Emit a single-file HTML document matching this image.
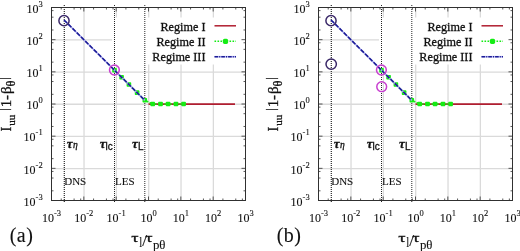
<!DOCTYPE html>
<html><head><meta charset="utf-8"><style>
html,body{margin:0;padding:0;background:#fff;width:520px;height:251px;overflow:hidden}
svg{display:block}
text{stroke:#111;stroke-width:0.1px}
.lg text{stroke-width:0.3px}
</style></head><body>
<svg width="520" height="251" viewBox="0 0 520 251">
<rect width="520" height="251" fill="#fff"/>
<g transform="translate(0,0)">
<path d="M84.03 7.5V200.5M51.5 168.58H245.5M116.37 7.5V200.5M51.5 136.42H245.5M148.7 7.5V200.5M51.5 104.25H245.5M181.03 7.5V200.5M51.5 72.08H245.5M213.37 7.5V200.5M51.5 39.92H245.5" stroke="#dadada" stroke-width="1.3" fill="none"/>
<rect x="112" y="17.5" width="133" height="47" fill="#fff"/>
<path d="M51.5 200.5v-4M51.5 7.5v4M51.5 200.5h4M245.5 200.5h-4M61.23 200.5v-2M61.23 7.5v2M51.5 190.82h2M245.5 190.82h-2M74.1 200.5v-2M74.1 7.5v2M51.5 178.02h2M245.5 178.02h-2M80.7 200.5v-2M80.7 7.5v2M51.5 171.45h2M245.5 171.45h-2M83.83 200.5v-4M83.83 7.5v4M51.5 168.33h4M245.5 168.33h-4M93.57 200.5v-2M93.57 7.5v2M51.5 158.65h2M245.5 158.65h-2M106.43 200.5v-2M106.43 7.5v2M51.5 145.85h2M245.5 145.85h-2M113.03 200.5v-2M113.03 7.5v2M51.5 139.28h2M245.5 139.28h-2M116.17 200.5v-4M116.17 7.5v4M51.5 136.17h4M245.5 136.17h-4M125.9 200.5v-2M125.9 7.5v2M51.5 126.48h2M245.5 126.48h-2M138.77 200.5v-2M138.77 7.5v2M51.5 113.68h2M245.5 113.68h-2M145.37 200.5v-2M145.37 7.5v2M51.5 107.12h2M245.5 107.12h-2M148.5 200.5v-4M148.5 7.5v4M51.5 104h4M245.5 104h-4M158.23 200.5v-2M158.23 7.5v2M51.5 94.32h2M245.5 94.32h-2M171.1 200.5v-2M171.1 7.5v2M51.5 81.52h2M245.5 81.52h-2M177.7 200.5v-2M177.7 7.5v2M51.5 74.95h2M245.5 74.95h-2M180.83 200.5v-4M180.83 7.5v4M51.5 71.83h4M245.5 71.83h-4M190.57 200.5v-2M190.57 7.5v2M51.5 62.15h2M245.5 62.15h-2M203.43 200.5v-2M203.43 7.5v2M51.5 49.35h2M245.5 49.35h-2M210.03 200.5v-2M210.03 7.5v2M51.5 42.78h2M245.5 42.78h-2M213.17 200.5v-4M213.17 7.5v4M51.5 39.67h4M245.5 39.67h-4M222.9 200.5v-2M222.9 7.5v2M51.5 29.98h2M245.5 29.98h-2M235.77 200.5v-2M235.77 7.5v2M51.5 17.18h2M245.5 17.18h-2M242.37 200.5v-2M242.37 7.5v2M51.5 10.62h2M245.5 10.62h-2M245.5 200.5v-4M245.5 7.5v4M51.5 7.5h4M245.5 7.5h-4" stroke="#303030" stroke-width="0.8" fill="none"/>
<path d="M64.3 5V202.0" stroke="#262626" stroke-width="1.2" stroke-dasharray="1 1" fill="none"/>
<path d="M114.5 5V202.0" stroke="#262626" stroke-width="1" stroke-dasharray="1 1" fill="none"/>
<path d="M144.8 5V202.0" stroke="#262626" stroke-width="1" stroke-dasharray="1 1" fill="none"/>
<rect x="51.5" y="7.5" width="194" height="193" fill="none" stroke="#303030" stroke-width="1"/>
<path d="M148.5 104.2H235" stroke="#b01e30" stroke-width="1.8" fill="none"/>
<path d="M114.5 70.18 L121.6 77.24 L128.9 84.5 L137.1 92.66 L144.8 100.32 L152.7 104 L160.5 104 L168.1 104 L176 104 L183.6 104" stroke="#14ec14" stroke-width="1.5" stroke-dasharray="1.6 1.4" fill="none"/>
<rect x="112.2" y="67.88" width="4.6" height="4.6" rx="0.8" fill="#14ec14"/>
<rect x="119.3" y="74.94" width="4.6" height="4.6" rx="0.8" fill="#14ec14"/>
<rect x="126.6" y="82.2" width="4.6" height="4.6" rx="0.8" fill="#14ec14"/>
<rect x="134.8" y="90.36" width="4.6" height="4.6" rx="0.8" fill="#14ec14"/>
<rect x="142.5" y="98.02" width="4.6" height="4.6" rx="0.8" fill="#14ec14"/>
<rect x="150.4" y="101.7" width="4.6" height="4.6" rx="0.8" fill="#14ec14"/>
<rect x="158.2" y="101.7" width="4.6" height="4.6" rx="0.8" fill="#14ec14"/>
<rect x="165.8" y="101.7" width="4.6" height="4.6" rx="0.8" fill="#14ec14"/>
<rect x="173.7" y="101.7" width="4.6" height="4.6" rx="0.8" fill="#14ec14"/>
<rect x="181.3" y="101.7" width="4.6" height="4.6" rx="0.8" fill="#14ec14"/>
<path d="M64.01 19.95L144.81 100.33" stroke="#a8a8f0" stroke-width="1.6" fill="none"/>
<path d="M64.01 19.95L144.81 100.33" stroke="#1c1c96" stroke-width="1.6" stroke-dasharray="4.4 1.6" fill="none"/>
<circle cx="64" cy="20.7" r="5.1" stroke="#3a2868" stroke-width="1.5" fill="none"/>
<circle cx="114.4" cy="70" r="4.9" stroke="#c840d0" stroke-width="1.5" fill="none"/>
<g class="lg" font-family="Liberation Serif, serif" font-size="12.2" fill="#111" text-anchor="end">
<text x="205.5" y="30.6">Regime I</text>
<text x="205.5" y="45.6">Regime II</text>
<text x="205.5" y="60.6">Regime III</text>
</g>
<path d="M214.5 25.8H236" stroke="#b01e30" stroke-width="1.5"/>
<path d="M214.5 41.3H236" stroke="#14ec14" stroke-width="1.5" stroke-dasharray="1.6 1.4"/>
<rect x="222.9" y="38.7" width="5.2" height="5.2" rx="1.6" fill="#14ec14"/>
<path d="M214.5 56.7H236" stroke="#b0b0f0" stroke-width="1.6"/>
<path d="M214.5 56.7H236" stroke="#1c1c96" stroke-width="1.6" stroke-dasharray="3.6 1.1 1 1.1"/>
<g class="lg" font-family="Liberation Serif, serif" font-size="13" fill="#111">
<text x="66.8" y="148.3" font-weight="bold" font-style="italic">τ<tspan font-weight="normal" font-size="9.6" dx="0.3">η</tspan></text>
<text x="99.7" y="148.3" font-weight="bold" font-style="italic">τ<tspan font-family="Liberation Sans, sans-serif" font-style="normal" font-weight="normal" font-size="10" dy="1.3">lc</tspan></text>
<text x="132.1" y="148.3" font-weight="bold" font-style="italic">τ<tspan font-family="Liberation Sans, sans-serif" font-style="normal" font-weight="normal" font-size="10" dy="1.3">L</tspan></text>
</g>
<g font-family="Liberation Serif, serif" font-size="11" fill="#111">
<text x="64.2" y="185">DNS</text>
<text x="115" y="185">LES</text>
</g>
<g font-family="Liberation Serif, serif" font-size="12" fill="#111">
<text x="51.5" y="222" text-anchor="middle">10<tspan font-size="8.5" dy="-6">-3</tspan></text>
<text x="42.7" y="205.8" text-anchor="end">10<tspan font-size="8.5" dy="-6">-3</tspan></text>
<text x="83.83" y="222" text-anchor="middle">10<tspan font-size="8.5" dy="-6">-2</tspan></text>
<text x="42.7" y="173.63" text-anchor="end">10<tspan font-size="8.5" dy="-6">-2</tspan></text>
<text x="116.17" y="222" text-anchor="middle">10<tspan font-size="8.5" dy="-6">-1</tspan></text>
<text x="42.7" y="141.47" text-anchor="end">10<tspan font-size="8.5" dy="-6">-1</tspan></text>
<text x="148.5" y="222" text-anchor="middle">10<tspan font-size="8.5" dy="-6">0</tspan></text>
<text x="42.7" y="109.3" text-anchor="end">10<tspan font-size="8.5" dy="-6">0</tspan></text>
<text x="180.83" y="222" text-anchor="middle">10<tspan font-size="8.5" dy="-6">1</tspan></text>
<text x="42.7" y="77.13" text-anchor="end">10<tspan font-size="8.5" dy="-6">1</tspan></text>
<text x="213.17" y="222" text-anchor="middle">10<tspan font-size="8.5" dy="-6">2</tspan></text>
<text x="42.7" y="44.97" text-anchor="end">10<tspan font-size="8.5" dy="-6">2</tspan></text>
<text x="245.5" y="222" text-anchor="middle">10<tspan font-size="8.5" dy="-6">3</tspan></text>
<text x="42.7" y="12.8" text-anchor="end">10<tspan font-size="8.5" dy="-6">3</tspan></text>
</g>
<g font-family="Liberation Serif, serif" fill="#111">
<text transform="translate(131.2,242) scale(1.4,1)" font-size="13" style="stroke-width:0.3px">τ</text>
<text transform="translate(139.3,247.3) scale(0.75,1)" font-size="14.5">l</text>
<text x="142.3" y="245.6" font-size="17.5">/</text>
<text transform="translate(145.3,242) scale(1.4,1)" font-size="13" style="stroke-width:0.3px">τ</text>
<text x="152.9" y="248.8" font-size="12.8">p<tspan dy="0.6">θ</tspan></text>
</g>
<g class="lg" font-family="Liberation Serif, serif" fill="#111" transform="translate(10.9,0) rotate(-90)" text-anchor="middle">
<text x="-129.0" y="0" font-size="14.6">I</text>
<text x="-120.2" y="4.4" font-size="11">uu</text>
<text x="-109.3" y="-3.4" font-size="11.5">|</text>
<text x="-103.6" y="-0.4" font-size="15">1</text>
<text x="-97.4" y="-0.4" font-size="15">-</text>
<text x="-90.1" y="-0.4" font-size="15">β</text>
<text x="-83.4" y="3.9" font-size="12.5">θ</text>
<text x="-78.6" y="-3.4" font-size="11.5">|</text>
</g>
<text font-family="Liberation Serif, serif" font-size="20" letter-spacing="0.4" fill="#111" x="9.8" y="242.3">(a)</text>
</g>
<g transform="translate(267,0)">
<path d="M84.03 7.5V200.5M51.5 168.58H245.5M116.37 7.5V200.5M51.5 136.42H245.5M148.7 7.5V200.5M51.5 104.25H245.5M181.03 7.5V200.5M51.5 72.08H245.5M213.37 7.5V200.5M51.5 39.92H245.5" stroke="#dadada" stroke-width="1.3" fill="none"/>
<rect x="112" y="17.5" width="133" height="47" fill="#fff"/>
<path d="M51.5 200.5v-4M51.5 7.5v4M51.5 200.5h4M245.5 200.5h-4M61.23 200.5v-2M61.23 7.5v2M51.5 190.82h2M245.5 190.82h-2M74.1 200.5v-2M74.1 7.5v2M51.5 178.02h2M245.5 178.02h-2M80.7 200.5v-2M80.7 7.5v2M51.5 171.45h2M245.5 171.45h-2M83.83 200.5v-4M83.83 7.5v4M51.5 168.33h4M245.5 168.33h-4M93.57 200.5v-2M93.57 7.5v2M51.5 158.65h2M245.5 158.65h-2M106.43 200.5v-2M106.43 7.5v2M51.5 145.85h2M245.5 145.85h-2M113.03 200.5v-2M113.03 7.5v2M51.5 139.28h2M245.5 139.28h-2M116.17 200.5v-4M116.17 7.5v4M51.5 136.17h4M245.5 136.17h-4M125.9 200.5v-2M125.9 7.5v2M51.5 126.48h2M245.5 126.48h-2M138.77 200.5v-2M138.77 7.5v2M51.5 113.68h2M245.5 113.68h-2M145.37 200.5v-2M145.37 7.5v2M51.5 107.12h2M245.5 107.12h-2M148.5 200.5v-4M148.5 7.5v4M51.5 104h4M245.5 104h-4M158.23 200.5v-2M158.23 7.5v2M51.5 94.32h2M245.5 94.32h-2M171.1 200.5v-2M171.1 7.5v2M51.5 81.52h2M245.5 81.52h-2M177.7 200.5v-2M177.7 7.5v2M51.5 74.95h2M245.5 74.95h-2M180.83 200.5v-4M180.83 7.5v4M51.5 71.83h4M245.5 71.83h-4M190.57 200.5v-2M190.57 7.5v2M51.5 62.15h2M245.5 62.15h-2M203.43 200.5v-2M203.43 7.5v2M51.5 49.35h2M245.5 49.35h-2M210.03 200.5v-2M210.03 7.5v2M51.5 42.78h2M245.5 42.78h-2M213.17 200.5v-4M213.17 7.5v4M51.5 39.67h4M245.5 39.67h-4M222.9 200.5v-2M222.9 7.5v2M51.5 29.98h2M245.5 29.98h-2M235.77 200.5v-2M235.77 7.5v2M51.5 17.18h2M245.5 17.18h-2M242.37 200.5v-2M242.37 7.5v2M51.5 10.62h2M245.5 10.62h-2M245.5 200.5v-4M245.5 7.5v4M51.5 7.5h4M245.5 7.5h-4" stroke="#303030" stroke-width="0.8" fill="none"/>
<path d="M64.3 5V202.0" stroke="#262626" stroke-width="1.2" stroke-dasharray="1 1" fill="none"/>
<path d="M114.5 5V202.0" stroke="#262626" stroke-width="1" stroke-dasharray="1 1" fill="none"/>
<path d="M144.8 5V202.0" stroke="#262626" stroke-width="1" stroke-dasharray="1 1" fill="none"/>
<rect x="51.5" y="7.5" width="194" height="193" fill="none" stroke="#303030" stroke-width="1"/>
<path d="M148.5 104.2H235" stroke="#b01e30" stroke-width="1.8" fill="none"/>
<path d="M114.5 70.18 L121.6 77.24 L128.9 84.5 L137.1 92.66 L144.8 100.32 L152.7 104 L160.5 104 L168.1 104 L176 104 L183.6 104" stroke="#14ec14" stroke-width="1.5" stroke-dasharray="1.6 1.4" fill="none"/>
<rect x="112.2" y="67.88" width="4.6" height="4.6" rx="0.8" fill="#14ec14"/>
<rect x="119.3" y="74.94" width="4.6" height="4.6" rx="0.8" fill="#14ec14"/>
<rect x="126.6" y="82.2" width="4.6" height="4.6" rx="0.8" fill="#14ec14"/>
<rect x="134.8" y="90.36" width="4.6" height="4.6" rx="0.8" fill="#14ec14"/>
<rect x="142.5" y="98.02" width="4.6" height="4.6" rx="0.8" fill="#14ec14"/>
<rect x="150.4" y="101.7" width="4.6" height="4.6" rx="0.8" fill="#14ec14"/>
<rect x="158.2" y="101.7" width="4.6" height="4.6" rx="0.8" fill="#14ec14"/>
<rect x="165.8" y="101.7" width="4.6" height="4.6" rx="0.8" fill="#14ec14"/>
<rect x="173.7" y="101.7" width="4.6" height="4.6" rx="0.8" fill="#14ec14"/>
<rect x="181.3" y="101.7" width="4.6" height="4.6" rx="0.8" fill="#14ec14"/>
<path d="M64.01 19.95L144.81 100.33" stroke="#a8a8f0" stroke-width="1.6" fill="none"/>
<path d="M64.01 19.95L144.81 100.33" stroke="#1c1c96" stroke-width="1.6" stroke-dasharray="4.4 1.6" fill="none"/>
<circle cx="64" cy="20.7" r="5.1" stroke="#3a2868" stroke-width="1.5" fill="none"/>
<circle cx="114.4" cy="70" r="4.9" stroke="#c840d0" stroke-width="1.5" fill="none"/>
<circle cx="64.2" cy="64.1" r="5.2" stroke="#3a2868" stroke-width="1.5" fill="none"/>
<circle cx="114.7" cy="86.7" r="4.9" stroke="#c840d0" stroke-width="1.5" fill="none"/>
<g class="lg" font-family="Liberation Serif, serif" font-size="12.2" fill="#111" text-anchor="end">
<text x="205.5" y="30.6">Regime I</text>
<text x="205.5" y="45.6">Regime II</text>
<text x="205.5" y="60.6">Regime III</text>
</g>
<path d="M214.5 25.8H236" stroke="#b01e30" stroke-width="1.5"/>
<path d="M214.5 41.3H236" stroke="#14ec14" stroke-width="1.5" stroke-dasharray="1.6 1.4"/>
<rect x="222.9" y="38.7" width="5.2" height="5.2" rx="1.6" fill="#14ec14"/>
<path d="M214.5 56.7H236" stroke="#b0b0f0" stroke-width="1.6"/>
<path d="M214.5 56.7H236" stroke="#1c1c96" stroke-width="1.6" stroke-dasharray="3.6 1.1 1 1.1"/>
<g class="lg" font-family="Liberation Serif, serif" font-size="13" fill="#111">
<text x="66.8" y="148.3" font-weight="bold" font-style="italic">τ<tspan font-weight="normal" font-size="9.6" dx="0.3">η</tspan></text>
<text x="99.7" y="148.3" font-weight="bold" font-style="italic">τ<tspan font-family="Liberation Sans, sans-serif" font-style="normal" font-weight="normal" font-size="10" dy="1.3">lc</tspan></text>
<text x="132.1" y="148.3" font-weight="bold" font-style="italic">τ<tspan font-family="Liberation Sans, sans-serif" font-style="normal" font-weight="normal" font-size="10" dy="1.3">L</tspan></text>
</g>
<g font-family="Liberation Serif, serif" font-size="11" fill="#111">
<text x="64.2" y="185">DNS</text>
<text x="115" y="185">LES</text>
</g>
<g font-family="Liberation Serif, serif" font-size="12" fill="#111">
<text x="51.5" y="222" text-anchor="middle">10<tspan font-size="8.5" dy="-6">-3</tspan></text>
<text x="42.7" y="205.8" text-anchor="end">10<tspan font-size="8.5" dy="-6">-3</tspan></text>
<text x="83.83" y="222" text-anchor="middle">10<tspan font-size="8.5" dy="-6">-2</tspan></text>
<text x="42.7" y="173.63" text-anchor="end">10<tspan font-size="8.5" dy="-6">-2</tspan></text>
<text x="116.17" y="222" text-anchor="middle">10<tspan font-size="8.5" dy="-6">-1</tspan></text>
<text x="42.7" y="141.47" text-anchor="end">10<tspan font-size="8.5" dy="-6">-1</tspan></text>
<text x="148.5" y="222" text-anchor="middle">10<tspan font-size="8.5" dy="-6">0</tspan></text>
<text x="42.7" y="109.3" text-anchor="end">10<tspan font-size="8.5" dy="-6">0</tspan></text>
<text x="180.83" y="222" text-anchor="middle">10<tspan font-size="8.5" dy="-6">1</tspan></text>
<text x="42.7" y="77.13" text-anchor="end">10<tspan font-size="8.5" dy="-6">1</tspan></text>
<text x="213.17" y="222" text-anchor="middle">10<tspan font-size="8.5" dy="-6">2</tspan></text>
<text x="42.7" y="44.97" text-anchor="end">10<tspan font-size="8.5" dy="-6">2</tspan></text>
<text x="245.5" y="222" text-anchor="middle">10<tspan font-size="8.5" dy="-6">3</tspan></text>
<text x="42.7" y="12.8" text-anchor="end">10<tspan font-size="8.5" dy="-6">3</tspan></text>
</g>
<g font-family="Liberation Serif, serif" fill="#111">
<text transform="translate(131.2,242) scale(1.4,1)" font-size="13" style="stroke-width:0.3px">τ</text>
<text transform="translate(139.3,247.3) scale(0.75,1)" font-size="14.5">l</text>
<text x="142.3" y="245.6" font-size="17.5">/</text>
<text transform="translate(145.3,242) scale(1.4,1)" font-size="13" style="stroke-width:0.3px">τ</text>
<text x="152.9" y="248.8" font-size="12.8">p<tspan dy="0.6">θ</tspan></text>
</g>
<g class="lg" font-family="Liberation Serif, serif" fill="#111" transform="translate(10.9,0) rotate(-90)" text-anchor="middle">
<text x="-129.0" y="0" font-size="14.6">I</text>
<text x="-120.2" y="4.4" font-size="11">uu</text>
<text x="-109.3" y="-3.4" font-size="11.5">|</text>
<text x="-103.6" y="-0.4" font-size="15">1</text>
<text x="-97.4" y="-0.4" font-size="15">-</text>
<text x="-90.1" y="-0.4" font-size="15">β</text>
<text x="-83.4" y="3.9" font-size="12.5">θ</text>
<text x="-78.6" y="-3.4" font-size="11.5">|</text>
</g>
<text font-family="Liberation Serif, serif" font-size="20" letter-spacing="0.4" fill="#111" x="9.8" y="242.3">(b)</text>
</g>
</svg>
</body></html>
